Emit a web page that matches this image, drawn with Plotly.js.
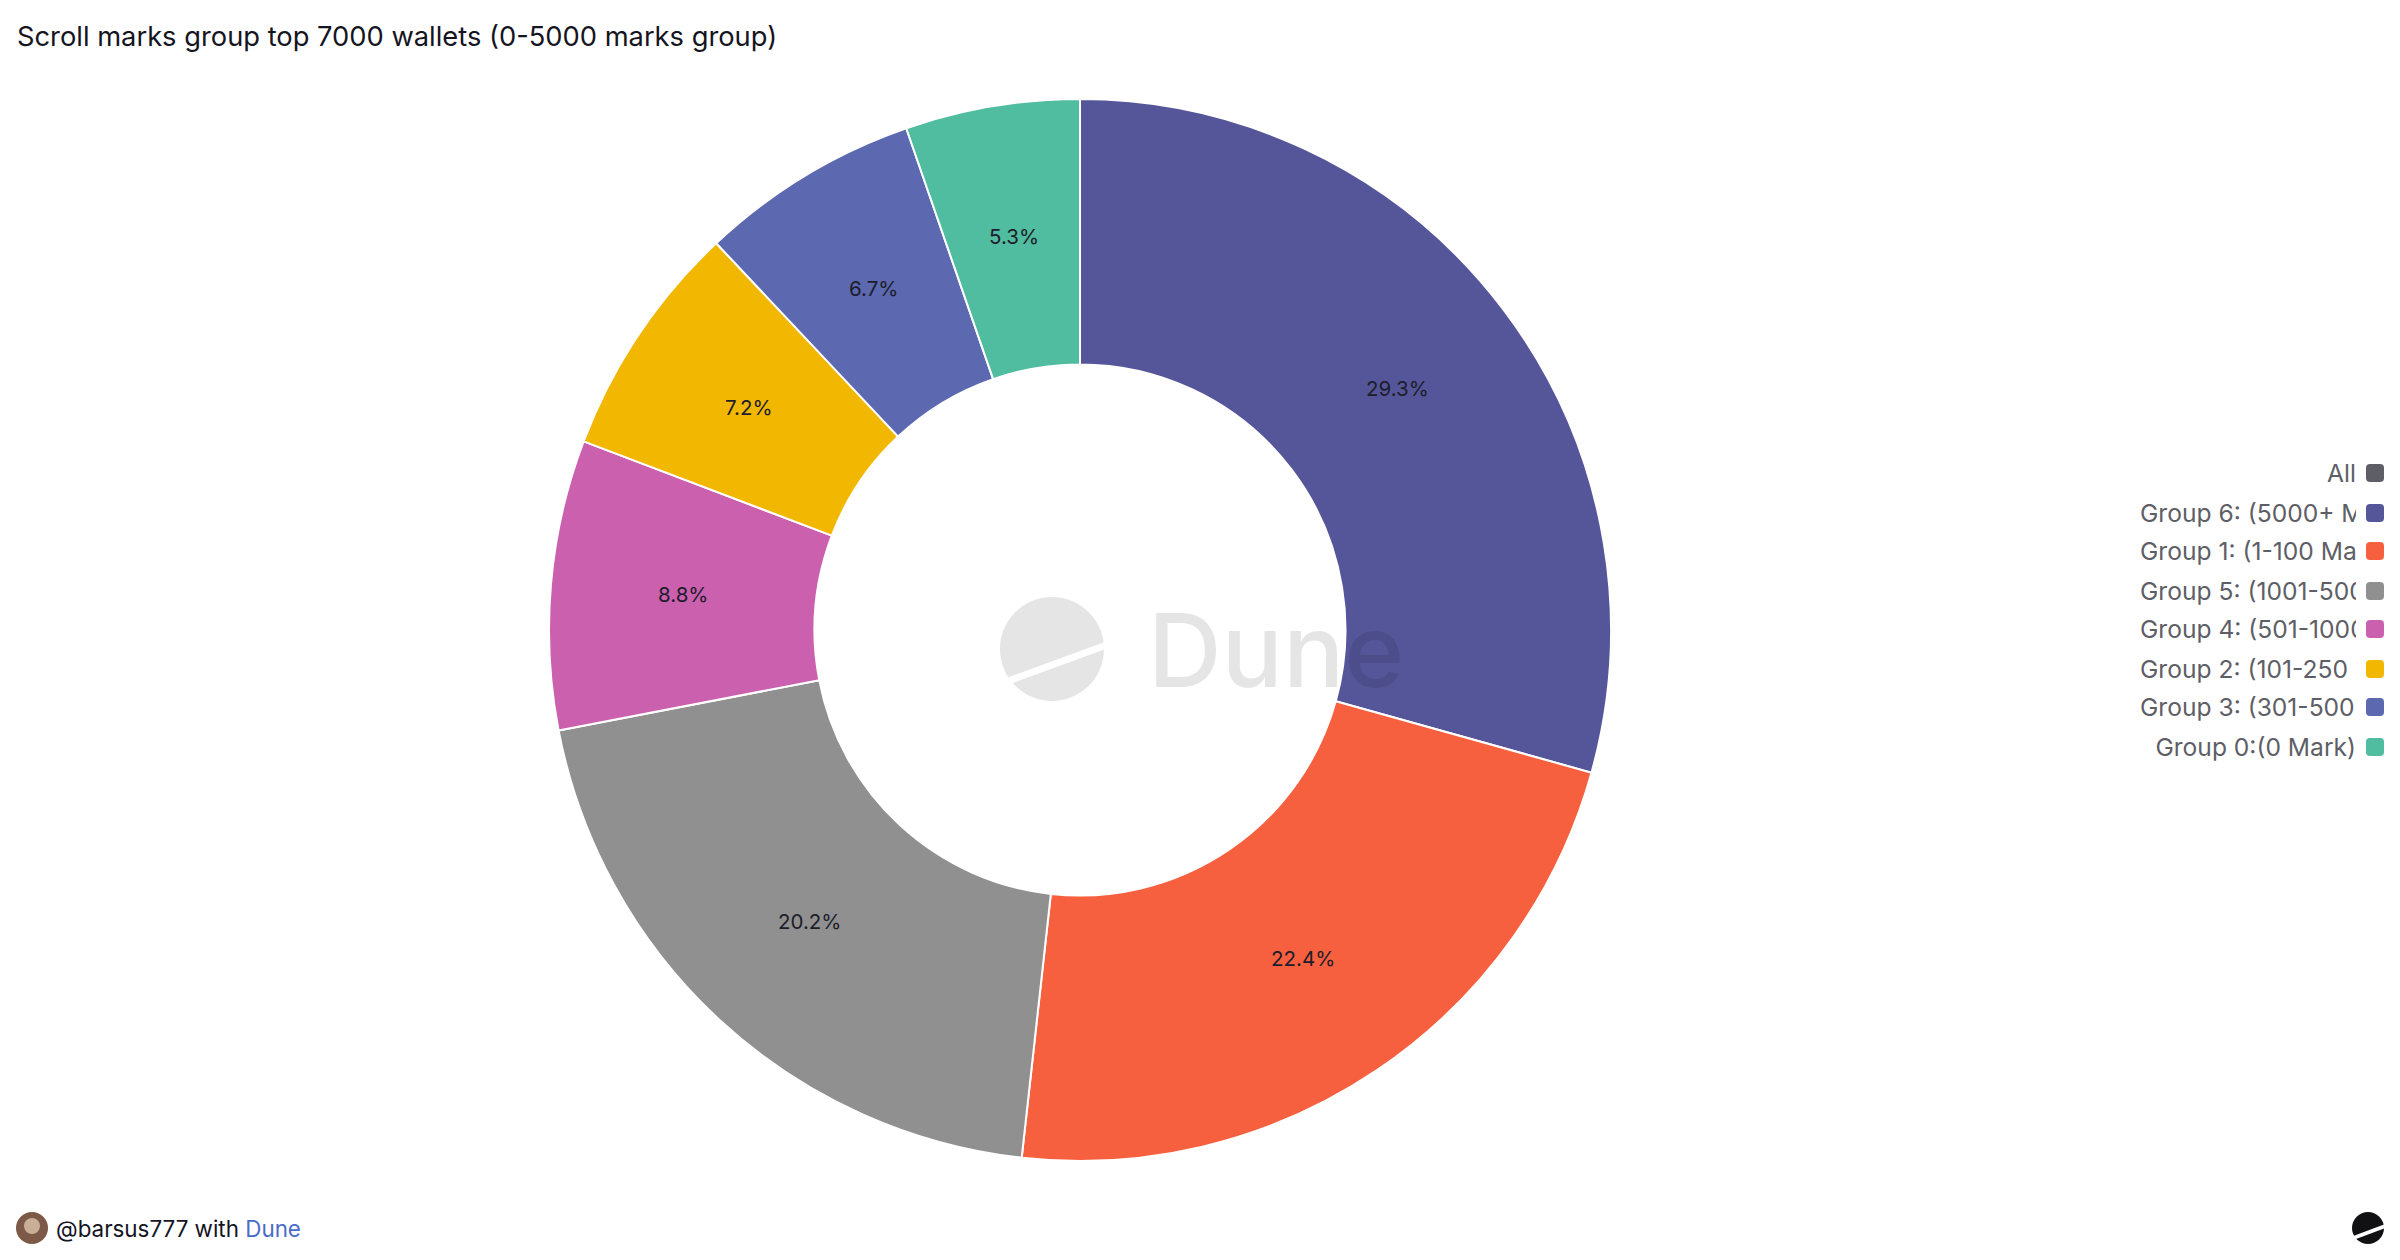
<!DOCTYPE html>
<html>
<head>
<meta charset="utf-8">
<script src="https://cdn.plot.ly/plotly-3.0.1.min.js"></script>
<style>
  html, body { margin: 0; padding: 0; background: #fff; }
  #chart { width: 2400px; height: 1260px; }
</style>
</head>
<body>
<div id="chart"></div>
<script>
// values, in percent
const groups = ['Group 6: (5000+ Marks)', 'Group 1: (1-100 Marks)', 'Group 5: (1001-5000 Marks)',
  'Group 4: (501-1000 Marks)', 'Group 2: (101-250 Marks)', 'Group 3: (301-500 Marks)', 'Group 0:(0 Mark)']
const shares = [29.3, 22.4, 20.2, 8.8, 7.2, 6.7, 5.3]
const colors = ['#55569a', '#f6603e', '#909090', '#cb60af', '#f2b700', '#5c68b0', '#50bca0']

// "All" has a legend entry but no slice
const legend_labels = ['All'].concat(groups)
const legend_colors = ['#5e5e66'].concat(colors)
const legend_rows = [473, 513, 551, 591, 629, 669, 707, 747]

const W = 2400, H = 1260
const font_name = 'Inter, sans-serif'
const pie_cx = 1080, pie_cy = 630, pie_r = 531, pie_hole = 0.5

function X(px) { return px / W }
function Y(py) { return 1 - py / H }

function paper_shape(s) {
  return Object.assign({xref: 'paper', yref: 'paper'}, s)
}

function circle(cx, cy, r, fill) {
  return paper_shape({type: 'circle', x0: X(cx - r), x1: X(cx + r), y0: Y(cy + r), y1: Y(cy - r),
    fillcolor: fill, line: {width: 0}})
}

function slash(x0, y0, x1, y1, width) {
  return paper_shape({type: 'line', x0: X(x0), y0: Y(y0), x1: X(x1), y1: Y(y1),
    line: {color: '#ffffff', width: width}})
}

function swatch(cy, color) {
  const l = 2366, r = 2384, t = cy - 9, b = cy + 9, c = 4
  const p = (x, y) => X(x) + ',' + Y(y)
  const path = 'M' + p(l + c, t) + ' L' + p(r - c, t) + ' Q' + p(r, t) + ' ' + p(r, t + c) +
    ' L' + p(r, b - c) + ' Q' + p(r, b) + ' ' + p(r - c, b) +
    ' L' + p(l + c, b) + ' Q' + p(l, b) + ' ' + p(l, b - c) +
    ' L' + p(l, t + c) + ' Q' + p(l, t) + ' ' + p(l + c, t) + ' Z'
  return paper_shape({type: 'path', path: path, fillcolor: color, line: {width: 0}})
}

const trace = {
  type: 'pie',
  labels: groups,
  values: shares,
  hole: pie_hole,
  sort: false,
  direction: 'clockwise',
  rotation: 0,
  textinfo: 'none',
  marker: {colors: colors, line: {color: '#ffffff', width: 2}},
  domain: {x: [X(pie_cx - pie_r), X(pie_cx + pie_r)], y: [Y(pie_cy + pie_r), Y(pie_cy - pie_r)]},
  showlegend: false
}

let shapes = [
  // watermark
  circle(1052, 649, 52, '#e5e5e5'),
  slash(1000, 684, 1112, 643, 7),
  // corner logo and avatar
  circle(2368, 1228, 16, '#111114'),
  slash(2348, 1240, 2388, 1225, 4),
  circle(32, 1228, 16, '#7d5a48'),
  circle(32, 1226, 8, '#c9ae98')
]
legend_rows.forEach(function(cy, i) { shapes.push(swatch(cy, legend_colors[i])) })

let annotations = [
  {text: 'Dune', x: X(1146), y: Y(650), xanchor: 'left', yanchor: 'middle',
    font: {family: font_name, size: 102, weight: 500, color: 'rgba(0,0,0,0.1)'}},
  {text: '@barsus777 with <span style="color:#4a6cc9">Dune</span>', x: X(54), y: Y(1228),
    xanchor: 'left', yanchor: 'middle', font: {family: font_name, size: 22.4, color: '#15151f'}}
]

// percent labels sit in the middle of the ring, plotly's own inside text pushes the small ones outwards
const total = shares.reduce((a, b) => a + b, 0)
const ring_mid = pie_r * (1 + pie_hole) / 2
let running = 0
shares.forEach(function(v) {
  const angle = (running + v / 2) / total * 2 * Math.PI
  running += v
  annotations.push({
    text: v.toFixed(1) + '%',
    x: X(pie_cx + ring_mid * Math.sin(angle)), y: Y(pie_cy - ring_mid * Math.cos(angle) - 1),
    xanchor: 'center', yanchor: 'middle',
    font: {family: font_name, size: 20.5, color: '#1d1d2b'}
  })
})

legend_labels.forEach(function(label, i) {
  // long labels are cut off by the box, same as the reference
  const short_label = label === 'All' || label === 'Group 0:(0 Mark)'
  annotations.push({
    text: label, x: X(2358), y: Y(legend_rows[i]), xanchor: 'right', yanchor: 'middle',
    width: 216, align: short_label ? 'right' : 'left',
    font: {family: font_name, size: 24.6, color: '#5e5e66'}
  })
})
annotations = annotations.map(a => Object.assign({xref: 'paper', yref: 'paper', showarrow: false}, a))

const layout = {
  width: W,
  height: H,
  margin: {l: 0, r: 0, t: 0, b: 0},
  paper_bgcolor: '#ffffff',
  title: {
    text: 'Scroll marks group top 7000 wallets (0-5000 marks group)',
    x: X(17), xanchor: 'left', y: Y(36), yanchor: 'middle', xref: 'paper', yref: 'paper',
    font: {family: font_name, size: 27.3, color: '#15151f'}
  },
  showlegend: false,
  shapes: shapes,
  annotations: annotations
}

Plotly.newPlot('chart', [trace], layout, {displayModeBar: false})
</script>
</body>
</html>
